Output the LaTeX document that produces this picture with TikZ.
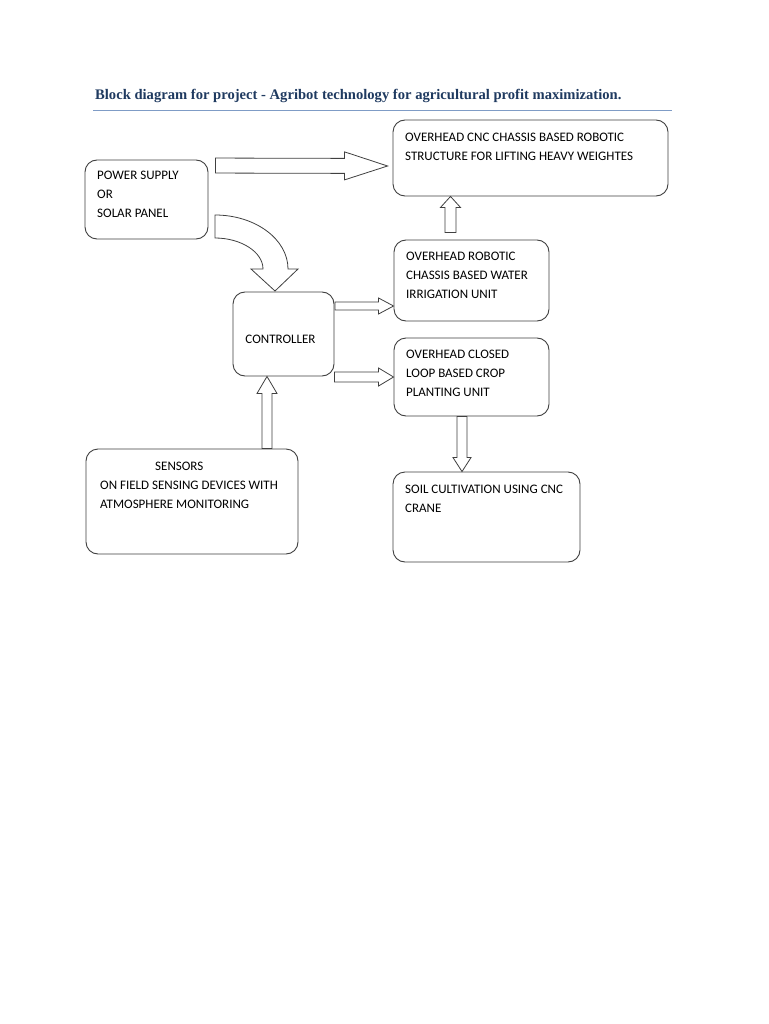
\documentclass[tikz,border=0pt]{standalone}
\usepackage{fontspec}
\setmainfont{Carlito}
\newfontfamily\titlefont{Liberation Serif}
\usetikzlibrary{calc}
\definecolor{titleblue}{HTML}{1F3A60}
\definecolor{ruleblue}{HTML}{7F9CC6}

% block arrow: from, to, half shaft, half head, head length
\newcommand{\blkarrow}[5]{%
  \coordinate (ba-s) at (#1);
  \coordinate (ba-t) at (#2);
  \coordinate (ba-b) at ($(ba-t)!#5!(ba-s)$);
  \draw[blockline] ($(ba-s)!#3!90:(ba-t)$) -- ($(ba-b)!#3!-90:(ba-s)$)
    -- ($(ba-b)!#4!-90:(ba-s)$) -- (ba-t) -- ($(ba-b)!#4!90:(ba-s)$)
    -- ($(ba-b)!#3!90:(ba-s)$) -- ($(ba-s)!#3!-90:(ba-t)$) -- cycle;
}

\begin{document}
\begin{tikzpicture}[x=1pt, y=-1pt,
    box/.style={draw=black!75, line width=0.9pt, rounded corners=12pt, inner sep=0pt},
    txt/.style={font=\fontsize{13}{18.8}\selectfont, align=left, inner sep=0pt, anchor=north west},
    blockline/.style={draw=black!75, line width=0.8pt, fill=white}]
  \fill[white] (0,0) rectangle (768,1024);
  \useasboundingbox (0,0) rectangle (768,1024);

  % title
  \node[anchor=base west, inner sep=0pt, text=titleblue,
        font=\titlefont\bfseries\fontsize{14.6}{16}\selectfont] (title) at (95,100)
    {Block diagram for project - Agribot technology for agricultural profit maximization.};
  \draw[ruleblue, line width=0.9pt] (93,110) -- (672,110);

  % blocks
  \node[box, minimum width=275pt, minimum height=76pt] (cnc) at (530.5,158) {};
  \node[box, minimum width=123pt, minimum height=79pt] (power) at (146.5,199.5) {};
  \node[box, minimum width=101pt, minimum height=84pt] (ctrl) at (283.5,334) {};
  \node[box, minimum width=155pt, minimum height=81pt] (irrig) at (471.5,280.5) {};
  \node[box, minimum width=155pt, minimum height=78pt] (crop) at (471.5,377) {};
  \node[box, minimum width=212pt, minimum height=105pt] (sensors) at (192,501.5) {};
  \node[box, minimum width=187pt, minimum height=90pt] (soil) at (486.5,517) {};

  % texts
  \node[txt] (cnctxt) at (405,133) {OVERHEAD CNC CHASSIS BASED ROBOTIC\\STRUCTURE FOR LIFTING HEAVY WEIGHTES};
  \node[txt] (powertxt) at (97,171) {POWER SUPPLY\\OR\\SOLAR PANEL};
  \node[txt, anchor=center] (ctrltxt) at (280.5,339) {CONTROLLER};
  \node[txt] (irrigtxt) at (406,252) {OVERHEAD ROBOTIC\\CHASSIS BASED WATER\\IRRIGATION UNIT};
  \node[txt] (croptxt) at (406,350) {OVERHEAD CLOSED\\LOOP BASED CROP\\PLANTING UNIT};
  \node[txt] (sensorstxt) at (100,462) {\hspace*{55pt}SENSORS\\ON FIELD SENSING DEVICES WITH\\ATMOSPHERE MONITORING};
  \node[txt] (soiltxt) at (405,485) {SOIL CULTIVATION USING CNC\\CRANE};

  % arrows
  \blkarrow{$(power.north east)+(7,6)$}{$(cnc.west)+(-5,8)$}{7.5pt}{14pt}{43pt}
  \draw[blockline] (215,215) .. controls (255,215) and (288,239) .. (288,269)
    -- (298,269) -- (275,291) -- (251,269) -- (263,269)
    .. controls (263,252) and (241,238) .. (215,238) -- cycle;
  \coordinate (up1) at ($(irrig.north)+(-21,-7)$);
  \blkarrow{up1}{cnc.south -| up1}{5.5pt}{10pt}{11pt}
  \coordinate (out1) at ($(ctrl.east)+(0.5,-28)$);
  \blkarrow{out1}{irrig.west |- out1}{4pt}{8pt}{15pt}
  \blkarrow{ctrl.east |- crop.west}{crop.west}{5pt}{9pt}{15pt}
  \coordinate (up2) at ($(ctrl.south)+(-16.5,0)$);
  \blkarrow{sensors.north -| up2}{up2}{5pt}{10pt}{17pt}
  \coordinate (dn1) at ($(crop.south)+(-9.5,0)$);
  \blkarrow{dn1}{soil.north -| dn1}{5pt}{9pt}{14pt}
\end{tikzpicture}
\end{document}
